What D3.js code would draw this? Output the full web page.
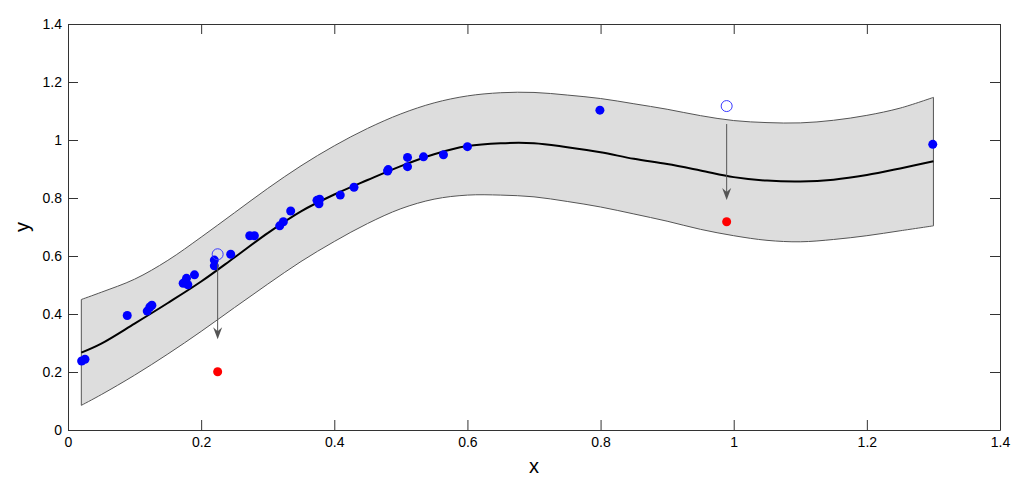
<!DOCTYPE html>
<html lang="en">

<head>
    <meta charset="UTF-8">
    <title>Regression fit with confidence band</title>
    <script src="https://d3js.org/d3.v7.min.js"></script>
    <style>
        body { margin: 0; background: #fff; }
        svg { display: block; font-family: Arial, "Liberation Sans", sans-serif; }
        .axis path, .axis line { stroke: #333; }
        .axis text { font-size: 14px; fill: #000; }
    </style>
</head>

<body>
    <div id="chart"></div>

    <script>
        // fitted curve
        const curveX = [0.02, 0.05, 0.10, 0.15, 0.20, 0.25, 0.30, 0.35, 0.40, 0.45, 0.50, 0.55, 0.60, 0.65,
            0.70, 0.75, 0.80, 0.85, 0.90, 0.95, 1.00, 1.05, 1.10, 1.15, 1.20, 1.25, 1.30];
        const meanY = [0.267, 0.298, 0.367, 0.438, 0.512, 0.595, 0.679, 0.754, 0.812, 0.862, 0.910, 0.951, 0.979, 0.989,
            0.989, 0.975, 0.958, 0.935, 0.917, 0.895, 0.872, 0.860, 0.857, 0.863, 0.879, 0.902, 0.927];
        const upperY = [0.450, 0.475, 0.520, 0.585, 0.665, 0.749, 0.833, 0.911, 0.980, 1.040, 1.090, 1.128, 1.152, 1.163,
            1.164, 1.155, 1.143, 1.125, 1.106, 1.084, 1.067, 1.060, 1.059, 1.068, 1.085, 1.110, 1.147];
        const lowerY = [0.085, 0.122, 0.189, 0.262, 0.340, 0.422, 0.503, 0.581, 0.650, 0.712, 0.763, 0.796, 0.810, 0.810,
            0.804, 0.788, 0.769, 0.745, 0.720, 0.692, 0.670, 0.654, 0.649, 0.657, 0.670, 0.687, 0.704];

        // observations
        const obsX = [0.0205, 0.0255, 0.089, 0.119, 0.123, 0.126, 0.173, 0.178, 0.180, 0.190, 0.2198, 0.2198,
            0.2444, 0.273, 0.280, 0.318, 0.3235, 0.3345, 0.374, 0.378, 0.377, 0.409, 0.4296, 0.480, 0.481,
            0.510, 0.510, 0.534, 0.564, 0.600, 0.799, 1.299];
        const obsY = [0.238, 0.244, 0.395, 0.410, 0.424, 0.430, 0.506, 0.523, 0.501, 0.535, 0.586, 0.566,
            0.606, 0.670, 0.670, 0.704, 0.718, 0.755, 0.792, 0.796, 0.780, 0.810, 0.837, 0.893, 0.898,
            0.940, 0.908, 0.942, 0.949, 0.977, 1.103, 0.985];

        // shifted points: original (open) and new (red)
        const movedX = [0.2248, 0.9894];
        const origY = [0.606, 1.117];
        const newY = [0.201, 0.718];
        const arrowFromY = [0.573, 1.055];
        const arrowToY = [0.313, 0.793];

        const tickVals = [0, 0.2, 0.4, 0.6, 0.8, 1, 1.2, 1.4];
        const tickLabels = ["0", "0.2", "0.4", "0.6", "0.8", "1", "1.2", "1.4"];

        const W = 1024, H = 486;
        const margin = { top: 24, right: 24, bottom: 56, left: 68 };

        const svg = d3.select("#chart")
            .append("svg")
            .attr("width", W)
            .attr("height", H);

        const xScale = d3.scaleLinear().domain([0, 1.4]).range([margin.left, W - margin.right]);
        const yScale = d3.scaleLinear().domain([0, 1.4]).range([H - margin.bottom, margin.top]);

        const curve = curveX.map((x, i) => ({ x, m: meanY[i], lo: lowerY[i], hi: upperY[i] }));

        // confidence band
        const band = d3.area()
            .x(d => xScale(d.x))
            .y0(d => yScale(d.lo))
            .y1(d => yScale(d.hi))
            .curve(d3.curveCatmullRom);

        svg.append("path")
            .datum(curve)
            .attr("d", band)
            .attr("fill", "#dddddd")
            .attr("stroke", "#555")
            .attr("stroke-width", 1);

        // mean line
        const line = d3.line()
            .x(d => xScale(d.x))
            .y(d => yScale(d.m))
            .curve(d3.curveCatmullRom);

        svg.append("path")
            .datum(curve)
            .attr("d", line)
            .attr("fill", "none")
            .attr("stroke", "#000")
            .attr("stroke-width", 2);

        // data points
        svg.selectAll(".obs")
            .data(obsX.map((x, i) => ({ x, y: obsY[i] })))
            .enter()
            .append("circle")
            .attr("class", "obs")
            .attr("cx", d => xScale(d.x))
            .attr("cy", d => yScale(d.y))
            .attr("r", 4.5)
            .attr("fill", "#0000ff");

        const moved = movedX.map((x, i) => ({ x, y0: origY[i], y1: newY[i], a0: arrowFromY[i], a1: arrowToY[i] }));

        svg.selectAll(".orig")
            .data(moved)
            .enter()
            .append("circle")
            .attr("class", "orig")
            .attr("cx", d => xScale(d.x))
            .attr("cy", d => yScale(d.y0))
            .attr("r", 5.5)
            .attr("fill", "none")
            .attr("stroke", "#3a3aff")
            .attr("stroke-width", 1);

        svg.selectAll(".new")
            .data(moved)
            .enter()
            .append("circle")
            .attr("class", "new")
            .attr("cx", d => xScale(d.x))
            .attr("cy", d => yScale(d.y1))
            .attr("r", 4.5)
            .attr("fill", "#ff0000");

        // arrows
        const arrows = svg.selectAll(".arrow")
            .data(moved)
            .enter()
            .append("g")
            .attr("class", "arrow");

        arrows.append("line")
            .attr("x1", d => xScale(d.x))
            .attr("x2", d => xScale(d.x))
            .attr("y1", d => yScale(d.a0))
            .attr("y2", d => yScale(d.a1) - 6)
            .attr("stroke", "#555")
            .attr("stroke-width", 1);

        arrows.append("path")
            .attr("transform", d => "translate(" + xScale(d.x) + "," + yScale(d.a1) + ")")
            .attr("d", "M0,0 L-4.5,-12 L0,-8 L4.5,-12 Z")
            .attr("fill", "#555");

        // axes, ticks pointing inward on all four sides
        const plotW = W - margin.left - margin.right;
        const plotH = H - margin.top - margin.bottom;

        svg.append("g")
            .attr("class", "axis")
            .attr("transform", "translate(0," + (H - margin.bottom) + ")")
            .call(d3.axisBottom(xScale).tickValues(tickVals).tickFormat((d, i) => tickLabels[i])
                .tickSizeInner(-10).tickSizeOuter(0).tickPadding(7));

        svg.append("g")
            .attr("class", "axis")
            .attr("transform", "translate(0," + margin.top + ")")
            .call(d3.axisTop(xScale).tickValues(tickVals).tickFormat("")
                .tickSizeInner(-10).tickSizeOuter(0));

        svg.append("g")
            .attr("class", "axis")
            .attr("transform", "translate(" + margin.left + ",0)")
            .call(d3.axisLeft(yScale).tickValues(tickVals).tickFormat((d, i) => tickLabels[i])
                .tickSizeInner(-10).tickSizeOuter(0).tickPadding(6));

        svg.append("g")
            .attr("class", "axis")
            .attr("transform", "translate(" + (W - margin.right) + ",0)")
            .call(d3.axisRight(yScale).tickValues(tickVals).tickFormat("")
                .tickSizeInner(-10).tickSizeOuter(0));

        // axis titles
        svg.append("text")
            .attr("x", margin.left + plotW / 2)
            .attr("y", 473)
            .attr("text-anchor", "middle")
            .style("font-size", "20px")
            .text("x");

        svg.append("text")
            .attr("transform", "translate(29," + (margin.top + plotH / 2) + ") rotate(-90)")
            .attr("text-anchor", "middle")
            .style("font-size", "20px")
            .text("y");
    </script>
</body>

</html>
